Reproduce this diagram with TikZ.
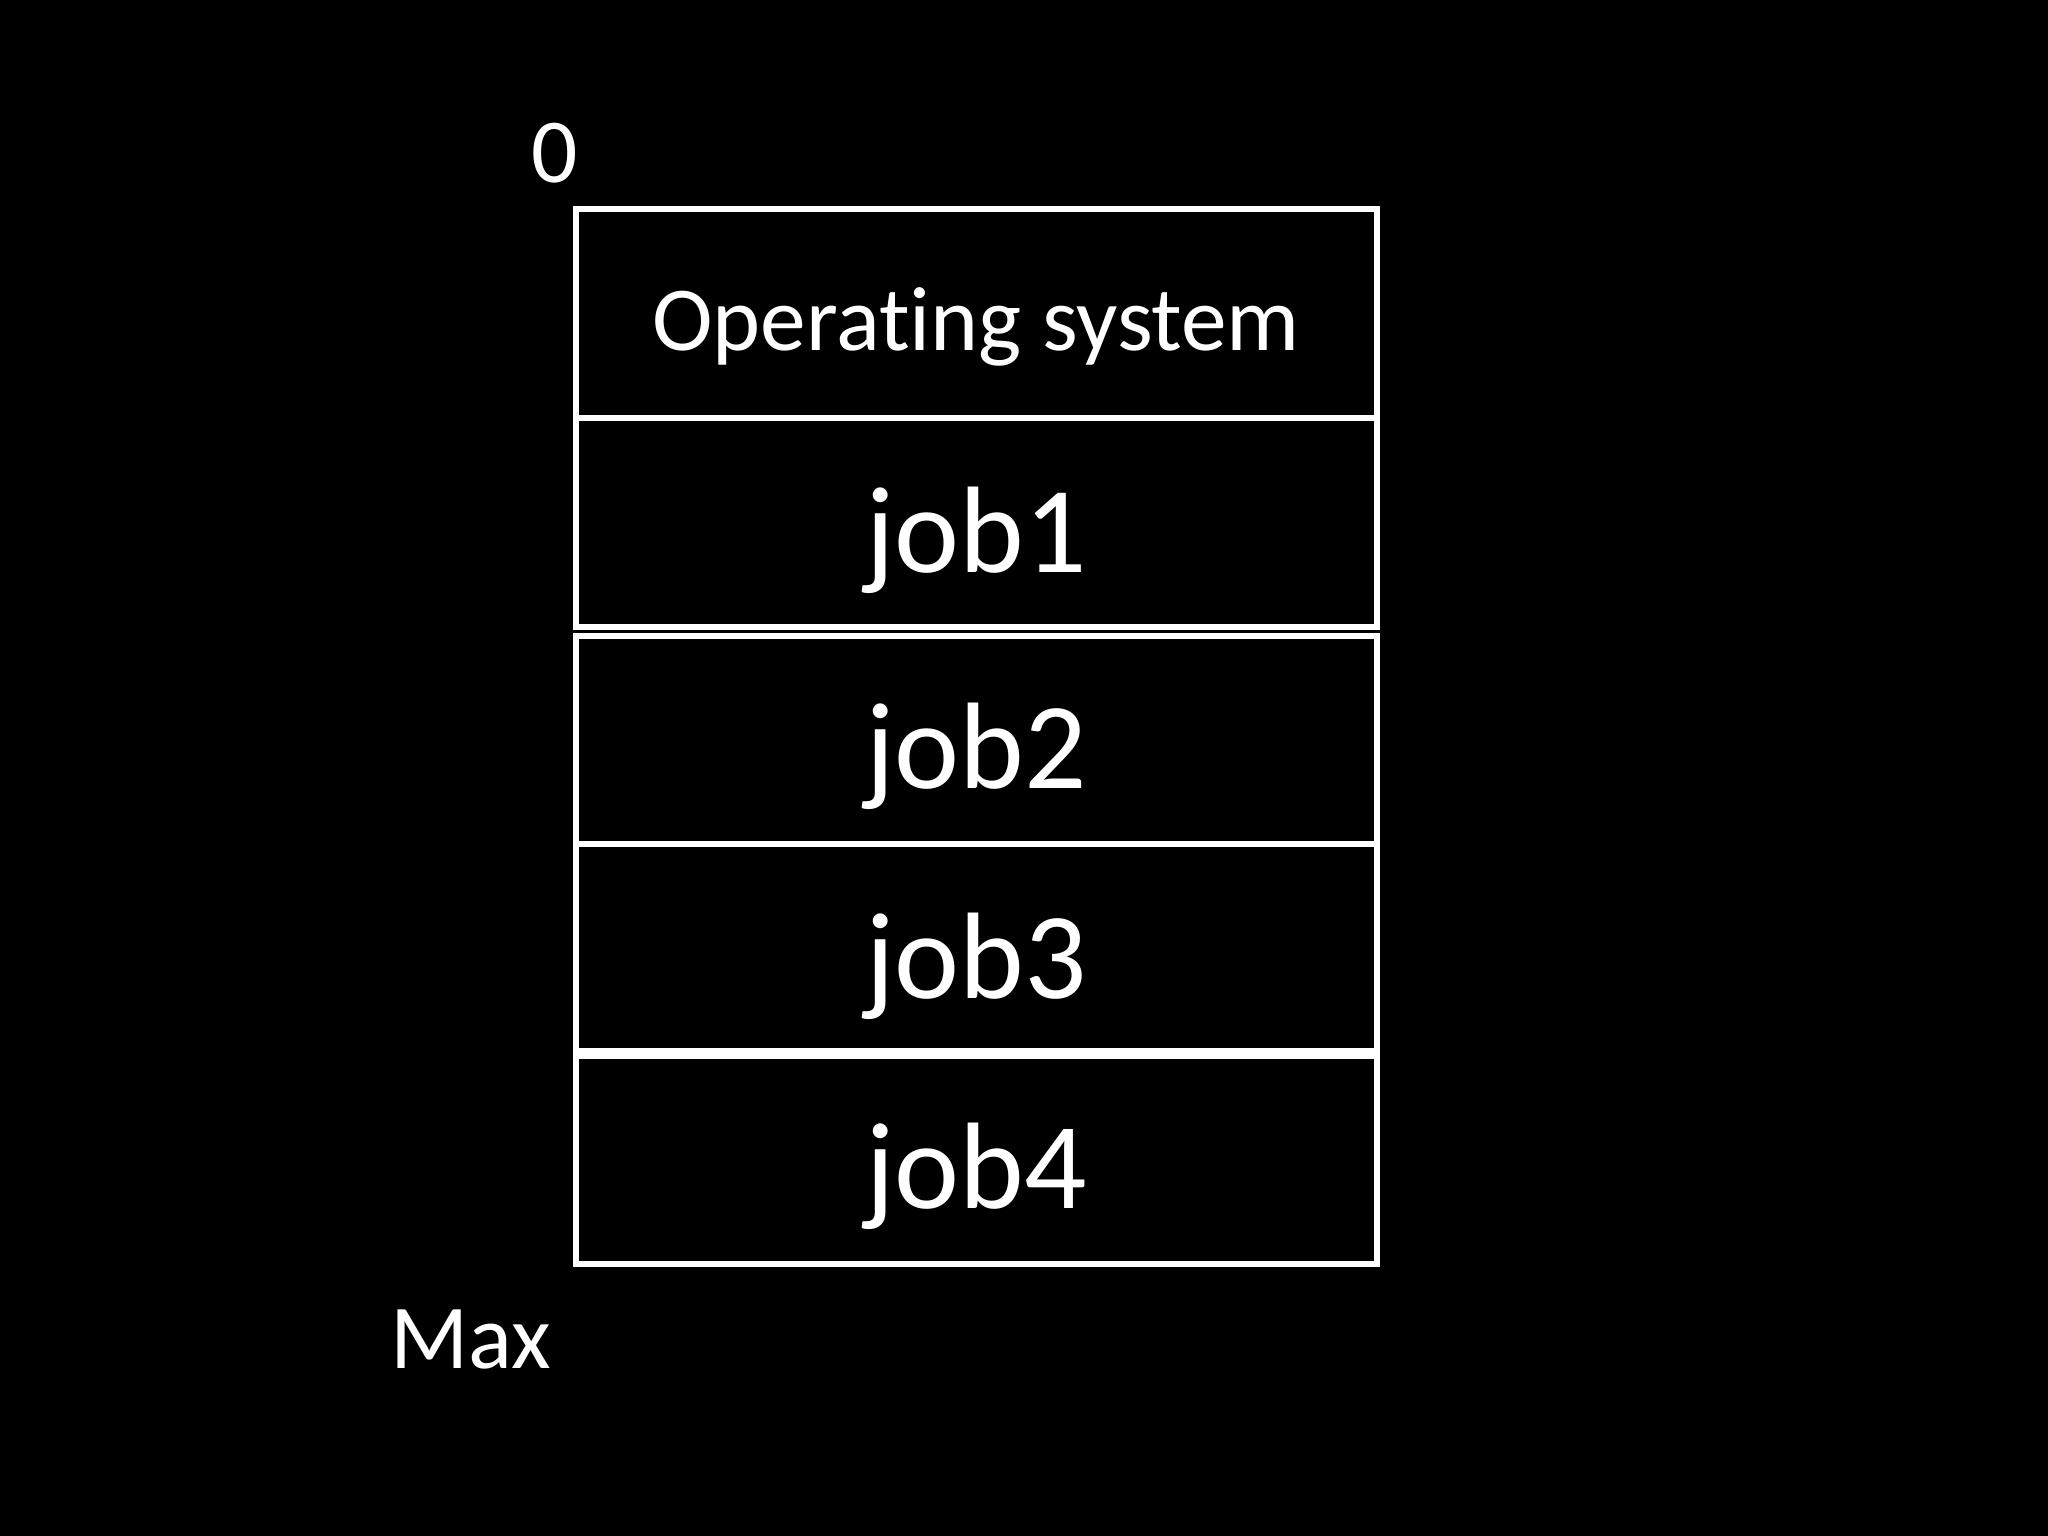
\documentclass[tikz,border=0pt]{standalone}
\usepackage{fontspec}
\setmainfont{Carlito}[Ligatures=NoCommon]
\begin{document}
\begin{tikzpicture}[x=0.01cm,y=-0.01cm,
  cell/.style={draw=white,line width=1.5pt},
  lbl/.style={text=white,anchor=base,inner sep=0pt,font=\fontsize{26}{30}\selectfont},
  joblbl/.style={text=white,anchor=base,inner sep=0pt,font=\fontsize{35}{40}\selectfont}]
\fill[black] (0,0) rectangle (2048,1536);
\useasboundingbox (0,0) rectangle (2048,1536);
% cells
\draw[cell] (576,209) rectangle (1377,418);
\draw[cell] (576,418) rectangle (1377,627);
\draw[cell] (576,636) rectangle (1377,844);
\draw[cell] (576,844) rectangle (1377,1051);
\draw[cell] (576,1056) rectangle (1377,1264);
% labels
\node[lbl] (os) at (976,350) {Operat\kern0pt ing system};
\node[joblbl] (j1) at (976,572) {job1};
\node[joblbl] (j2) at (976,788) {job2};
\node[joblbl] (j3) at (976,998) {job3};
\node[joblbl] (j4) at (976,1208) {job4};
\node[lbl] (zero) at (555,182) {0};
\node[lbl] (max) at (471,1368) {Max};
\end{tikzpicture}
\end{document}
